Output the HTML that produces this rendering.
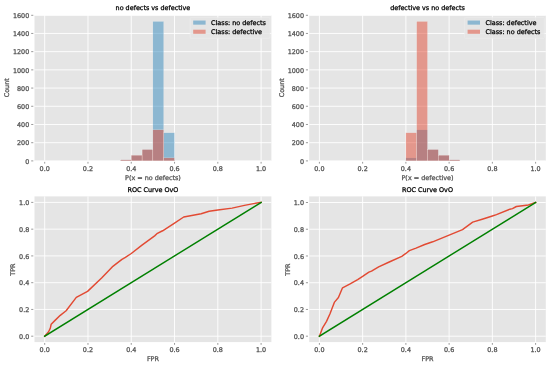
<!DOCTYPE html>
<html lang="en">
<head>
<meta charset="utf-8">
<title>Class probability histograms and ROC curves</title>
<style>
html,body{margin:0;padding:0;background:#fff;}
svg{display:block;}
svg text{font-family:"DejaVu Sans","Liberation Sans",sans-serif;font-size:6.43px;stroke-width:0.28px;paint-order:stroke fill;}
svg .g text, svg text.g{stroke:#555555;}
svg text.k{stroke:#000000;stroke-width:0.26px;}
svg text.l{stroke:#000000;stroke-width:0.26px;}
</style>
</head>
<body>
<svg width="550" height="365" viewBox="0 0 550 365">
<rect x="0" y="0" width="550" height="365" fill="#ffffff"/>
<rect x="34.5" y="15.3" width="236.9" height="145.6" fill="#E5E5E5"/>
<g stroke="#fff" stroke-width="0.9">
<line x1="44.7" y1="15.3" x2="44.7" y2="160.9"/>
<line x1="87.98" y1="15.3" x2="87.98" y2="160.9"/>
<line x1="131.26" y1="15.3" x2="131.26" y2="160.9"/>
<line x1="174.54" y1="15.3" x2="174.54" y2="160.9"/>
<line x1="217.82" y1="15.3" x2="217.82" y2="160.9"/>
<line x1="261.1" y1="15.3" x2="261.1" y2="160.9"/>
</g>
<g stroke="#555555" stroke-width="0.6">
<line x1="44.7" y1="161.8" x2="44.7" y2="163.6"/>
<line x1="87.98" y1="161.8" x2="87.98" y2="163.6"/>
<line x1="131.26" y1="161.8" x2="131.26" y2="163.6"/>
<line x1="174.54" y1="161.8" x2="174.54" y2="163.6"/>
<line x1="217.82" y1="161.8" x2="217.82" y2="163.6"/>
<line x1="261.1" y1="161.8" x2="261.1" y2="163.6"/>
</g>
<g class="g" fill="#555555" text-anchor="middle">
<text x="44.7" y="171.1">0.0</text>
<text x="87.98" y="171.1">0.2</text>
<text x="131.26" y="171.1">0.4</text>
<text x="174.54" y="171.1">0.6</text>
<text x="217.82" y="171.1">0.8</text>
<text x="261.1" y="171.1">1.0</text>
</g>
<g stroke="#fff" stroke-width="0.9">
<line x1="34.5" y1="160.9" x2="271.4" y2="160.9"/>
<line x1="34.5" y1="142.69" x2="271.4" y2="142.69"/>
<line x1="34.5" y1="124.48" x2="271.4" y2="124.48"/>
<line x1="34.5" y1="106.28" x2="271.4" y2="106.28"/>
<line x1="34.5" y1="88.07" x2="271.4" y2="88.07"/>
<line x1="34.5" y1="69.86" x2="271.4" y2="69.86"/>
<line x1="34.5" y1="51.65" x2="271.4" y2="51.65"/>
<line x1="34.5" y1="33.44" x2="271.4" y2="33.44"/>
<line x1="34.5" y1="15.3" x2="271.4" y2="15.3"/>
</g>
<g stroke="#555555" stroke-width="0.6">
<line x1="31.2" y1="160.9" x2="33.3" y2="160.9"/>
<line x1="31.2" y1="142.69" x2="33.3" y2="142.69"/>
<line x1="31.2" y1="124.48" x2="33.3" y2="124.48"/>
<line x1="31.2" y1="106.28" x2="33.3" y2="106.28"/>
<line x1="31.2" y1="88.07" x2="33.3" y2="88.07"/>
<line x1="31.2" y1="69.86" x2="33.3" y2="69.86"/>
<line x1="31.2" y1="51.65" x2="33.3" y2="51.65"/>
<line x1="31.2" y1="33.44" x2="33.3" y2="33.44"/>
<line x1="31.2" y1="15.3" x2="33.3" y2="15.3"/>
</g>
<g class="g" fill="#555555" text-anchor="end">
<text x="29.3" y="163.55">0</text>
<text x="29.3" y="145.34">200</text>
<text x="29.3" y="127.13">400</text>
<text x="29.3" y="108.93">600</text>
<text x="29.3" y="90.72">800</text>
<text x="29.3" y="72.51">1000</text>
<text x="29.3" y="54.3">1200</text>
<text x="29.3" y="36.09">1400</text>
<text x="29.3" y="17.95">1600</text>
</g>
<g fill="#348ABD" fill-opacity="0.5" stroke="#EEEEEE" stroke-width="0.25">
<rect x="120.44" y="159.81" width="10.82" height="1.09"/>
<rect x="131.26" y="155.16" width="10.82" height="5.74"/>
<rect x="142.08" y="149.52" width="10.82" height="11.38"/>
<rect x="152.9" y="21.43" width="10.82" height="139.47"/>
<rect x="163.72" y="132.77" width="10.82" height="28.13"/>
</g>
<g fill="#E24A33" fill-opacity="0.5" stroke="#EEEEEE" stroke-width="0.25">
<rect x="120.44" y="159.81" width="10.82" height="1.09"/>
<rect x="131.26" y="155.16" width="10.82" height="5.74"/>
<rect x="142.08" y="149.52" width="10.82" height="11.38"/>
<rect x="152.9" y="129.86" width="10.82" height="31.04"/>
<rect x="163.72" y="157.9" width="10.82" height="3"/>
</g>
<rect x="190.2" y="17.6" width="79.8" height="20.8" rx="1" fill="#E5E5E5" fill-opacity="0.8" stroke="#efefef" stroke-width="0.5"/>
<rect x="193.2" y="20.55" width="12.4" height="4.1" fill="#348ABD" fill-opacity="0.5"/>
<text x="211.1" y="25.3" font-size="6.5" class="l" fill="#000">Class: no defects</text>
<rect x="193.2" y="29.7" width="12.4" height="4.1" fill="#E24A33" fill-opacity="0.5"/>
<text x="211.1" y="34.45" font-size="6.5" class="l" fill="#000">Class: defective</text>
<text x="152.95" y="10.4" class="k" text-anchor="middle" font-size="6.45" fill="#000">no defects vs defective</text>
<text x="152.95" y="179.5" class="g" text-anchor="middle" fill="#555555">P(x = no defects)</text>
<text transform="translate(9.2 87.8) rotate(-90)" class="g" text-anchor="middle" fill="#555555">Count</text>
<rect x="309.2" y="15.3" width="236.6" height="145.6" fill="#E5E5E5"/>
<g stroke="#fff" stroke-width="0.9">
<line x1="319.4" y1="15.3" x2="319.4" y2="160.9"/>
<line x1="362.64" y1="15.3" x2="362.64" y2="160.9"/>
<line x1="405.88" y1="15.3" x2="405.88" y2="160.9"/>
<line x1="449.12" y1="15.3" x2="449.12" y2="160.9"/>
<line x1="492.36" y1="15.3" x2="492.36" y2="160.9"/>
<line x1="535.6" y1="15.3" x2="535.6" y2="160.9"/>
</g>
<g stroke="#555555" stroke-width="0.6">
<line x1="319.4" y1="161.8" x2="319.4" y2="163.6"/>
<line x1="362.64" y1="161.8" x2="362.64" y2="163.6"/>
<line x1="405.88" y1="161.8" x2="405.88" y2="163.6"/>
<line x1="449.12" y1="161.8" x2="449.12" y2="163.6"/>
<line x1="492.36" y1="161.8" x2="492.36" y2="163.6"/>
<line x1="535.6" y1="161.8" x2="535.6" y2="163.6"/>
</g>
<g class="g" fill="#555555" text-anchor="middle">
<text x="319.4" y="171.1">0.0</text>
<text x="362.64" y="171.1">0.2</text>
<text x="405.88" y="171.1">0.4</text>
<text x="449.12" y="171.1">0.6</text>
<text x="492.36" y="171.1">0.8</text>
<text x="535.6" y="171.1">1.0</text>
</g>
<g stroke="#fff" stroke-width="0.9">
<line x1="309.2" y1="160.9" x2="545.8" y2="160.9"/>
<line x1="309.2" y1="142.69" x2="545.8" y2="142.69"/>
<line x1="309.2" y1="124.48" x2="545.8" y2="124.48"/>
<line x1="309.2" y1="106.28" x2="545.8" y2="106.28"/>
<line x1="309.2" y1="88.07" x2="545.8" y2="88.07"/>
<line x1="309.2" y1="69.86" x2="545.8" y2="69.86"/>
<line x1="309.2" y1="51.65" x2="545.8" y2="51.65"/>
<line x1="309.2" y1="33.44" x2="545.8" y2="33.44"/>
<line x1="309.2" y1="15.3" x2="545.8" y2="15.3"/>
</g>
<g stroke="#555555" stroke-width="0.6">
<line x1="305.9" y1="160.9" x2="308" y2="160.9"/>
<line x1="305.9" y1="142.69" x2="308" y2="142.69"/>
<line x1="305.9" y1="124.48" x2="308" y2="124.48"/>
<line x1="305.9" y1="106.28" x2="308" y2="106.28"/>
<line x1="305.9" y1="88.07" x2="308" y2="88.07"/>
<line x1="305.9" y1="69.86" x2="308" y2="69.86"/>
<line x1="305.9" y1="51.65" x2="308" y2="51.65"/>
<line x1="305.9" y1="33.44" x2="308" y2="33.44"/>
<line x1="305.9" y1="15.3" x2="308" y2="15.3"/>
</g>
<g class="g" fill="#555555" text-anchor="end">
<text x="304" y="163.55">0</text>
<text x="304" y="145.34">200</text>
<text x="304" y="127.13">400</text>
<text x="304" y="108.93">600</text>
<text x="304" y="90.72">800</text>
<text x="304" y="72.51">1000</text>
<text x="304" y="54.3">1200</text>
<text x="304" y="36.09">1400</text>
<text x="304" y="17.95">1600</text>
</g>
<g fill="#348ABD" fill-opacity="0.5" stroke="#EEEEEE" stroke-width="0.25">
<rect x="405.88" y="157.9" width="10.81" height="3"/>
<rect x="416.69" y="129.86" width="10.81" height="31.04"/>
<rect x="427.5" y="149.52" width="10.81" height="11.38"/>
<rect x="438.31" y="155.16" width="10.81" height="5.74"/>
<rect x="449.12" y="159.81" width="10.81" height="1.09"/>
</g>
<g fill="#E24A33" fill-opacity="0.5" stroke="#EEEEEE" stroke-width="0.25">
<rect x="405.88" y="132.77" width="10.81" height="28.13"/>
<rect x="416.69" y="21.43" width="10.81" height="139.47"/>
<rect x="427.5" y="149.52" width="10.81" height="11.38"/>
<rect x="438.31" y="155.16" width="10.81" height="5.74"/>
<rect x="449.12" y="159.81" width="10.81" height="1.09"/>
</g>
<rect x="464.6" y="17.6" width="79.8" height="20.8" rx="1" fill="#E5E5E5" fill-opacity="0.8" stroke="#efefef" stroke-width="0.5"/>
<rect x="467.6" y="20.55" width="12.4" height="4.1" fill="#348ABD" fill-opacity="0.5"/>
<text x="485.5" y="25.3" font-size="6.5" class="l" fill="#000">Class: defective</text>
<rect x="467.6" y="29.7" width="12.4" height="4.1" fill="#E24A33" fill-opacity="0.5"/>
<text x="485.5" y="34.45" font-size="6.5" class="l" fill="#000">Class: no defects</text>
<text x="427.5" y="10.4" class="k" text-anchor="middle" font-size="6.45" fill="#000">defective vs no defects</text>
<text x="427.5" y="179.5" class="g" text-anchor="middle" fill="#555555">P(x = defective)</text>
<text transform="translate(283.8 87.8) rotate(-90)" class="g" text-anchor="middle" fill="#555555">Count</text>
<rect x="34.5" y="196.4" width="236.9" height="145.7" fill="#E5E5E5"/>
<g stroke="#fff" stroke-width="0.9">
<line x1="44.7" y1="196.4" x2="44.7" y2="342.1"/>
<line x1="87.98" y1="196.4" x2="87.98" y2="342.1"/>
<line x1="131.26" y1="196.4" x2="131.26" y2="342.1"/>
<line x1="174.54" y1="196.4" x2="174.54" y2="342.1"/>
<line x1="217.82" y1="196.4" x2="217.82" y2="342.1"/>
<line x1="261.1" y1="196.4" x2="261.1" y2="342.1"/>
</g>
<g stroke="#555555" stroke-width="0.6">
<line x1="44.7" y1="343" x2="44.7" y2="344.8"/>
<line x1="87.98" y1="343" x2="87.98" y2="344.8"/>
<line x1="131.26" y1="343" x2="131.26" y2="344.8"/>
<line x1="174.54" y1="343" x2="174.54" y2="344.8"/>
<line x1="217.82" y1="343" x2="217.82" y2="344.8"/>
<line x1="261.1" y1="343" x2="261.1" y2="344.8"/>
</g>
<g class="g" fill="#555555" text-anchor="middle">
<text x="44.7" y="352.3">0.0</text>
<text x="87.98" y="352.3">0.2</text>
<text x="131.26" y="352.3">0.4</text>
<text x="174.54" y="352.3">0.6</text>
<text x="217.82" y="352.3">0.8</text>
<text x="261.1" y="352.3">1.0</text>
</g>
<g stroke="#fff" stroke-width="0.9">
<line x1="34.5" y1="336.2" x2="271.4" y2="336.2"/>
<line x1="34.5" y1="309.44" x2="271.4" y2="309.44"/>
<line x1="34.5" y1="282.68" x2="271.4" y2="282.68"/>
<line x1="34.5" y1="255.92" x2="271.4" y2="255.92"/>
<line x1="34.5" y1="229.16" x2="271.4" y2="229.16"/>
<line x1="34.5" y1="202.4" x2="271.4" y2="202.4"/>
</g>
<g stroke="#555555" stroke-width="0.6">
<line x1="31.2" y1="336.2" x2="33.3" y2="336.2"/>
<line x1="31.2" y1="309.44" x2="33.3" y2="309.44"/>
<line x1="31.2" y1="282.68" x2="33.3" y2="282.68"/>
<line x1="31.2" y1="255.92" x2="33.3" y2="255.92"/>
<line x1="31.2" y1="229.16" x2="33.3" y2="229.16"/>
<line x1="31.2" y1="202.4" x2="33.3" y2="202.4"/>
</g>
<g class="g" fill="#555555" text-anchor="end">
<text x="29.3" y="338.85">0.0</text>
<text x="29.3" y="312.09">0.2</text>
<text x="29.3" y="285.33">0.4</text>
<text x="29.3" y="258.57">0.6</text>
<text x="29.3" y="231.81">0.8</text>
<text x="29.3" y="205.05">1.0</text>
</g>
<path d="M44.7 336.2 L48.6 331.78 L50.33 328.17 L51.19 324.16 L55.3 320.14 L60.28 315.33 L66.12 310.78 L76.29 297.4 L87.55 291.38 L101.61 278 L112.22 266.89 L121.95 259.4 L125.42 257.39 L131.26 253.51 L141.65 245.35 L154.63 235.85 L156.9 233.71 L162.64 230.77 L174.54 223.14 L183.72 216.98 L201.16 213.77 L209.16 211.3 L217.82 210.03 L232.1 208.15 L244.44 205.34 L253.53 203.6 L261.1 202.4" fill="none" stroke="#E24A33" stroke-width="1.45" stroke-linejoin="round" stroke-linecap="square"/>
<path d="M44.7 336.2 L261.1 202.4" fill="none" stroke="#008000" stroke-width="1.45" stroke-linejoin="round" stroke-linecap="square"/>
<text x="152.95" y="191.5" class="k" text-anchor="middle" font-size="6.45" fill="#000">ROC Curve OvO</text>
<text x="152.95" y="361.1" class="g" text-anchor="middle" fill="#555555">FPR</text>
<text transform="translate(15 269.55) rotate(-90)" class="g" text-anchor="middle" fill="#555555">TPR</text>
<rect x="309.2" y="196.4" width="236.6" height="145.7" fill="#E5E5E5"/>
<g stroke="#fff" stroke-width="0.9">
<line x1="319.4" y1="196.4" x2="319.4" y2="342.1"/>
<line x1="362.64" y1="196.4" x2="362.64" y2="342.1"/>
<line x1="405.88" y1="196.4" x2="405.88" y2="342.1"/>
<line x1="449.12" y1="196.4" x2="449.12" y2="342.1"/>
<line x1="492.36" y1="196.4" x2="492.36" y2="342.1"/>
<line x1="535.6" y1="196.4" x2="535.6" y2="342.1"/>
</g>
<g stroke="#555555" stroke-width="0.6">
<line x1="319.4" y1="343" x2="319.4" y2="344.8"/>
<line x1="362.64" y1="343" x2="362.64" y2="344.8"/>
<line x1="405.88" y1="343" x2="405.88" y2="344.8"/>
<line x1="449.12" y1="343" x2="449.12" y2="344.8"/>
<line x1="492.36" y1="343" x2="492.36" y2="344.8"/>
<line x1="535.6" y1="343" x2="535.6" y2="344.8"/>
</g>
<g class="g" fill="#555555" text-anchor="middle">
<text x="319.4" y="352.3">0.0</text>
<text x="362.64" y="352.3">0.2</text>
<text x="405.88" y="352.3">0.4</text>
<text x="449.12" y="352.3">0.6</text>
<text x="492.36" y="352.3">0.8</text>
<text x="535.6" y="352.3">1.0</text>
</g>
<g stroke="#fff" stroke-width="0.9">
<line x1="309.2" y1="336.2" x2="545.8" y2="336.2"/>
<line x1="309.2" y1="309.46" x2="545.8" y2="309.46"/>
<line x1="309.2" y1="282.72" x2="545.8" y2="282.72"/>
<line x1="309.2" y1="255.98" x2="545.8" y2="255.98"/>
<line x1="309.2" y1="229.24" x2="545.8" y2="229.24"/>
<line x1="309.2" y1="202.5" x2="545.8" y2="202.5"/>
</g>
<g stroke="#555555" stroke-width="0.6">
<line x1="305.9" y1="336.2" x2="308" y2="336.2"/>
<line x1="305.9" y1="309.46" x2="308" y2="309.46"/>
<line x1="305.9" y1="282.72" x2="308" y2="282.72"/>
<line x1="305.9" y1="255.98" x2="308" y2="255.98"/>
<line x1="305.9" y1="229.24" x2="308" y2="229.24"/>
<line x1="305.9" y1="202.5" x2="308" y2="202.5"/>
</g>
<g class="g" fill="#555555" text-anchor="end">
<text x="304" y="338.85">0.0</text>
<text x="304" y="312.11">0.2</text>
<text x="304" y="285.37">0.4</text>
<text x="304" y="258.63">0.6</text>
<text x="304" y="231.89">0.8</text>
<text x="304" y="205.15">1.0</text>
</g>
<path d="M319.4 336.2 L322.43 328.18 L326.53 321.36 L329.99 313.74 L334.53 302.11 L338.43 297.56 L342.53 287.8 L349.67 284.19 L357.67 279.64 L362.64 276.44 L368.91 272.16 L371.5 271.09 L378.64 266.94 L389.23 262 L401.77 256.38 L405.88 253.44 L409.34 250.63 L416.04 248.09 L424.69 244.48 L432.69 241.81 L449.12 235.12 L462.52 229.64 L472.69 222.15 L482.2 219.21 L492.36 216 L496.47 214.67 L509.87 209.19 L512.47 208.65 L516.36 206.51 L520.47 205.98 L528.47 204.91 L535.6 202.5" fill="none" stroke="#E24A33" stroke-width="1.45" stroke-linejoin="round" stroke-linecap="square"/>
<path d="M319.4 336.2 L535.6 202.5" fill="none" stroke="#008000" stroke-width="1.45" stroke-linejoin="round" stroke-linecap="square"/>
<text x="427.5" y="191.5" class="k" text-anchor="middle" font-size="6.45" fill="#000">ROC Curve OvO</text>
<text x="427.5" y="361.1" class="g" text-anchor="middle" fill="#555555">FPR</text>
<text transform="translate(289.6 269.55) rotate(-90)" class="g" text-anchor="middle" fill="#555555">TPR</text>
</svg>
</body>
</html>
